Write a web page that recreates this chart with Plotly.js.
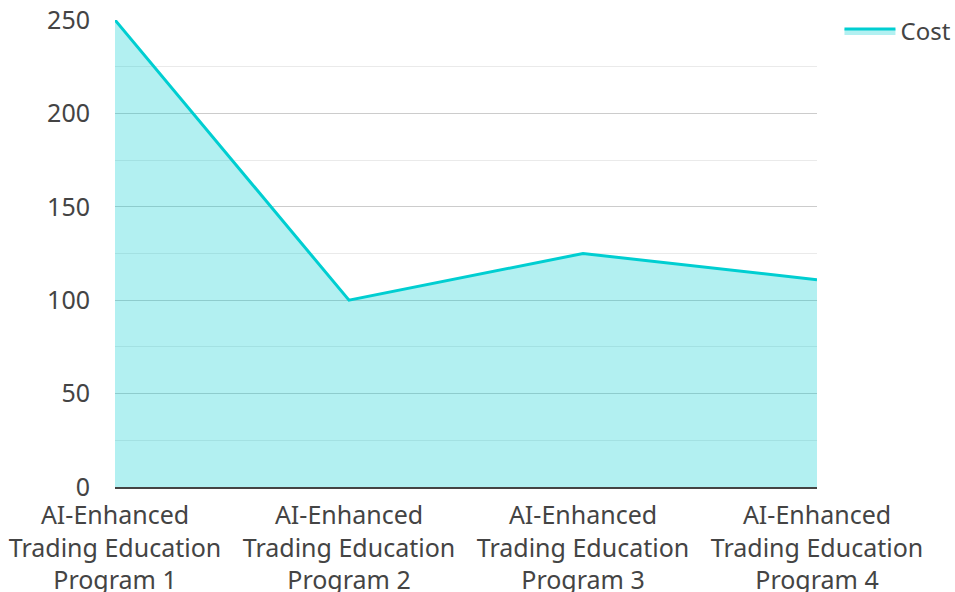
<!DOCTYPE html>
<html><head><meta charset="utf-8">
<script src="https://cdn.plot.ly/plotly-3.0.1.min.js"></script>
<style>body{margin:0}#c{width:955px;height:592px}</style>
</head><body><div id="c"></div>
<script>
const categories = ["AI-Enhanced<br>Trading Education<br>Program 1","AI-Enhanced<br>Trading Education<br>Program 2","AI-Enhanced<br>Trading Education<br>Program 3","AI-Enhanced<br>Trading Education<br>Program 4"];
const cost = [250, 100, 125, 111];
const seriesName = "Cost";
const yTicks = [0, 50, 100, 150, 200, 250];

Plotly.newPlot('c', [{
  type: 'scatter', mode: 'lines', x: categories, y: cost, name: seriesName,
  fill: 'tozeroy', fillcolor: 'rgba(0,206,209,0.3)',
  line: {color: '#00CED1', width: 3}
}], {
  width: 955, height: 592,
  margin: {l: 115, r: 138, t: 20, b: 105, autoexpand: false},
  font: {family: 'Noto Sans', size: 25, color: '#444'},
  showlegend: true,
  legend: {x: 1.032, y: 1.024, xanchor: 'left', yanchor: 'top', itemwidth: 51, font: {size: 24}},
  xaxis: {type: 'category', range: [0, 3], showgrid: false, showline: true, linecolor: '#444', linewidth: 2, ticks: '', automargin: false, ticklabelstandoff: 5},
  yaxis: {range: [0, 250], tickvals: yTicks, showgrid: true, gridcolor: '#ccc', zeroline: false, showline: false, ticks: '', ticklabelstandoff: 24,
    minor: {dtick: 25, showgrid: true, gridcolor: '#eaeaea'}, automargin: false},
  plot_bgcolor: '#fff', paper_bgcolor: '#fff'
}, {displayModeBar: false});
</script></body></html>
